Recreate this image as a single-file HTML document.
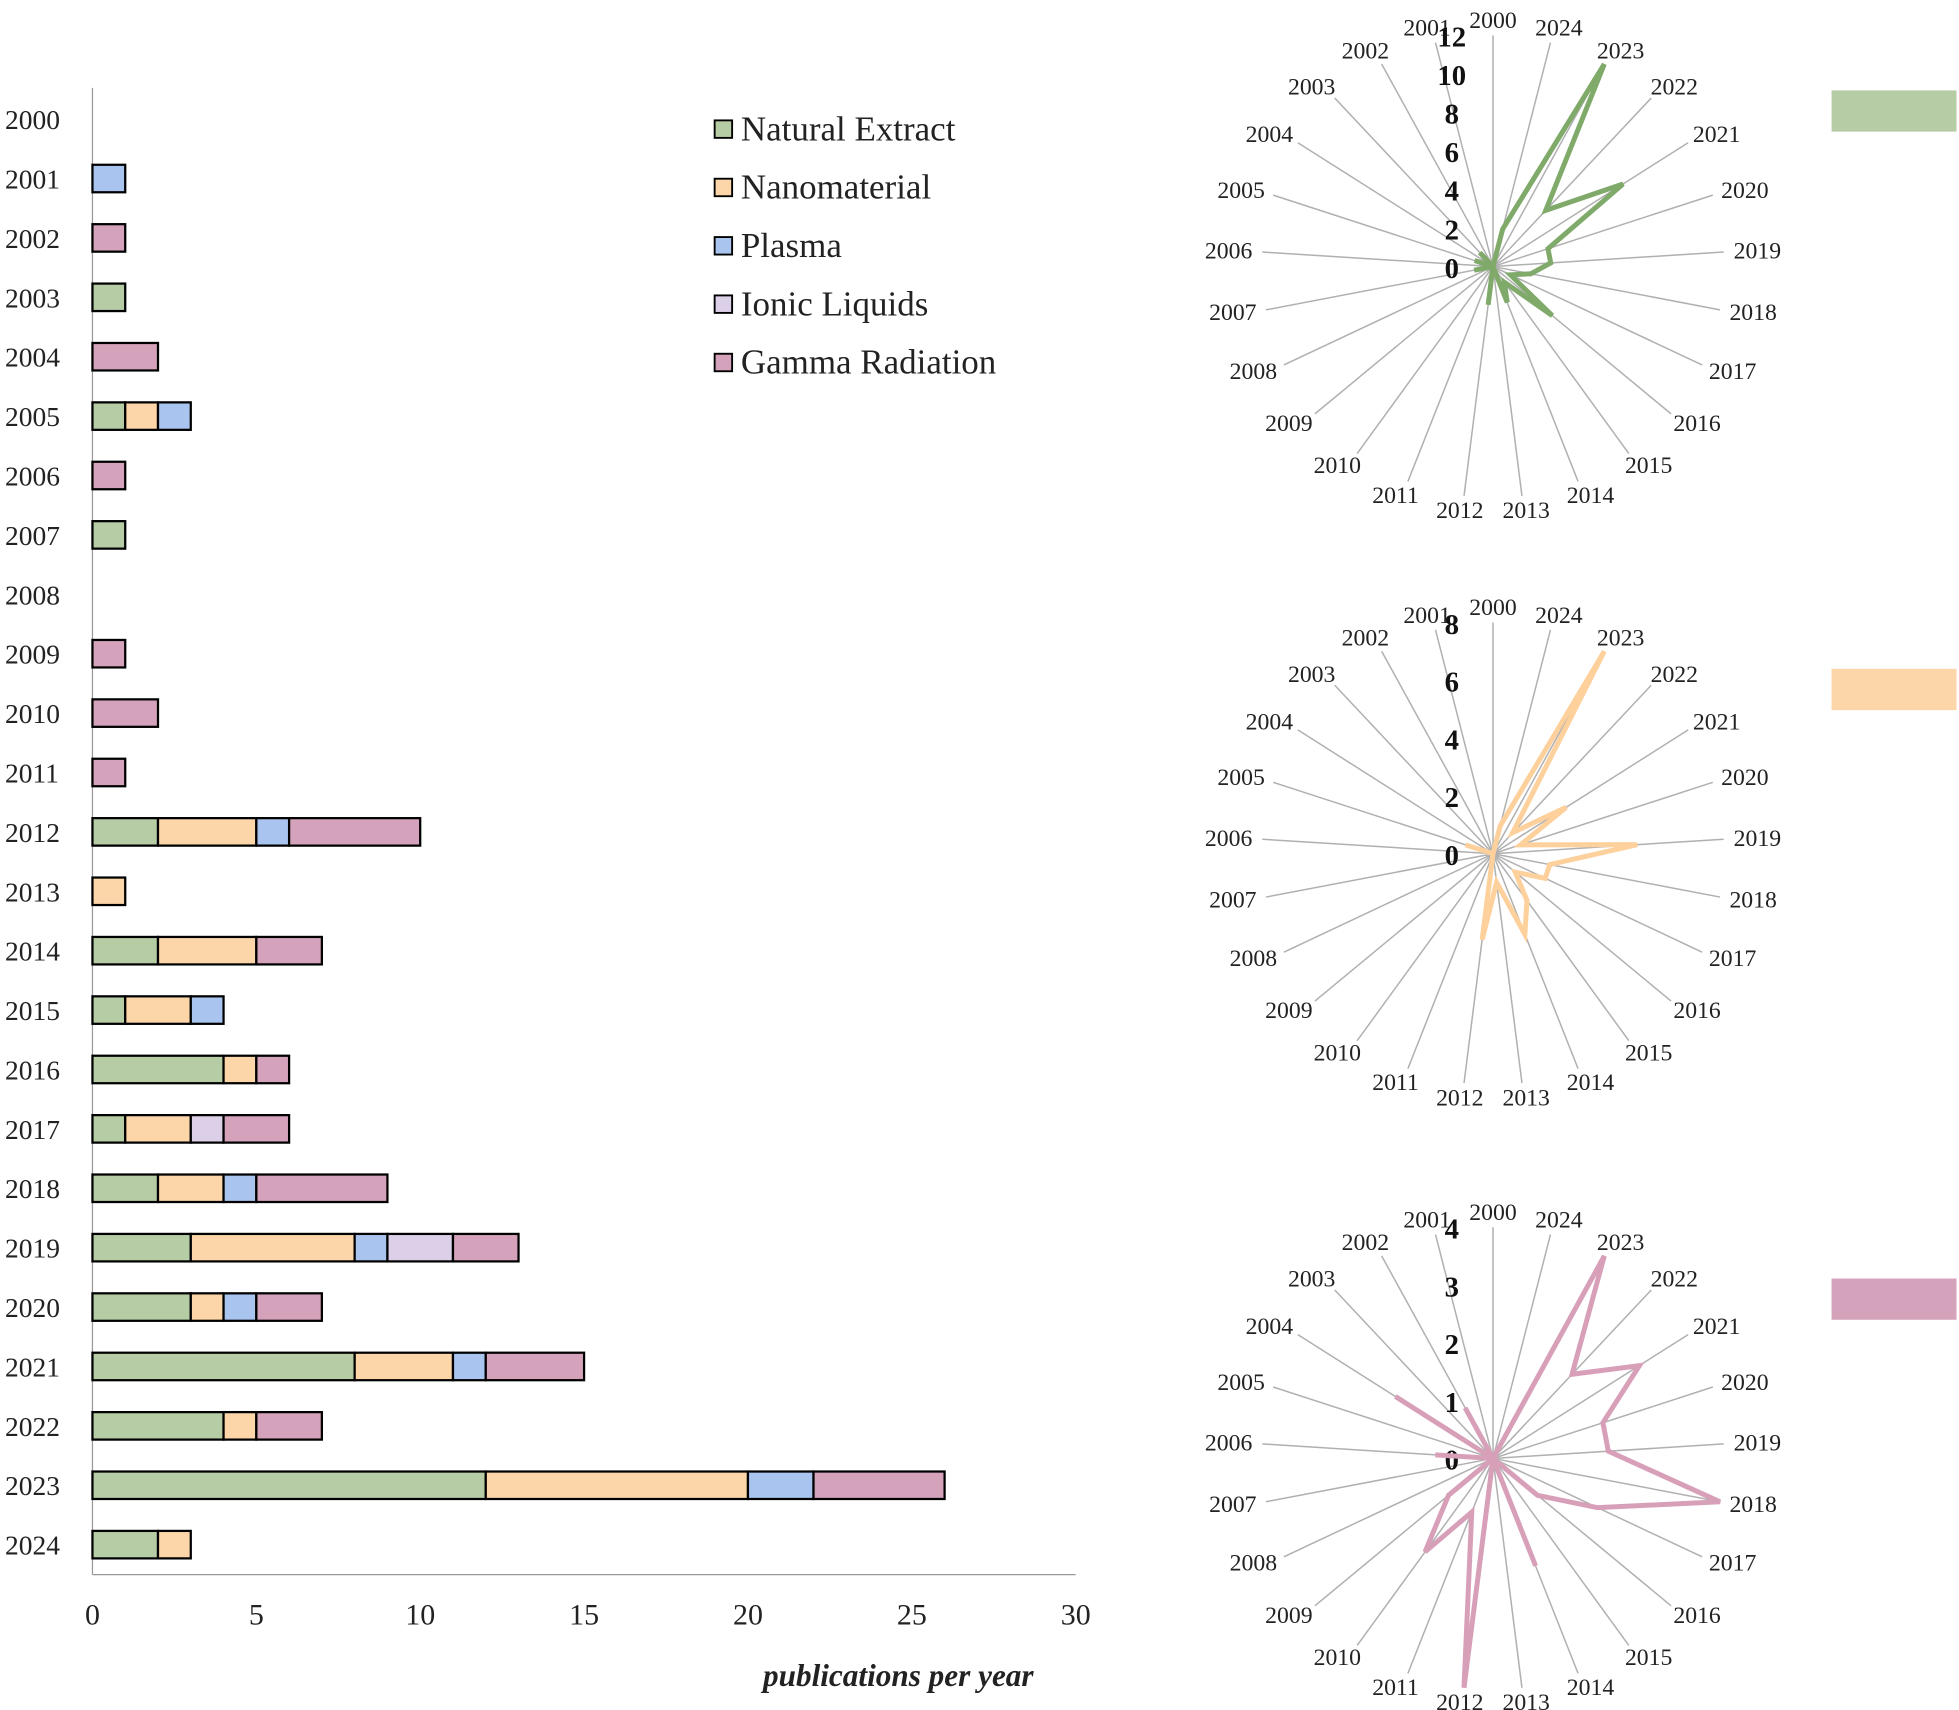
<!DOCTYPE html>
<html><head><meta charset="utf-8"><style>
html,body{margin:0;padding:0;background:#fff;}
svg{display:block;font-family:"Liberation Serif",serif;}
</style></head><body>
<svg id="chart" width="1959" height="1710" viewBox="0 0 1568 1368" xmlns="http://www.w3.org/2000/svg">
<rect width="1568" height="1368" fill="#fff"/>
</svg>
<script>
const years = [2000,2001,2002,2003,2004,2005,2006,2007,2008,2009,2010,2011,2012,2013,2014,2015,2016,2017,2018,2019,2020,2021,2022,2023,2024];
const naturalExtract = [0,0,0,1,0,1,0,1,0,0,0,0,2,0,2,1,4,1,2,3,3,8,4,12,2];
const nanomaterial   = [0,0,0,0,0,1,0,0,0,0,0,0,3,1,3,2,1,2,2,5,1,3,1,8,1];
const plasma         = [0,1,0,0,0,1,0,0,0,0,0,0,1,0,0,1,0,0,1,1,1,1,0,2,0];
const ionicLiquids   = [0,0,0,0,0,0,0,0,0,0,0,0,0,0,0,0,0,1,0,2,0,0,0,0,0];
const gammaRadiation = [0,0,1,0,2,0,1,0,0,1,2,1,4,0,2,0,1,2,4,2,2,3,2,4,0];
const seriesNames = ["Natural Extract","Nanomaterial","Plasma","Ionic Liquids","Gamma Radiation"];
const seriesColors = ["#b5cca5","#fcd5a8","#a9c4ef","#dcd0e8","#d4a3bb"];
const xTicks = [0,5,10,15,20,25,30];
const radarGreenTicks = [0,2,4,6,8,10,12];
const radarOrangeTicks = [0,2,4,6,8];
const radarPinkTicks = [0,1,2,3,4];

const NS="http://www.w3.org/2000/svg";
const svg=document.getElementById('chart');
function mk(tag,attrs,parent,text){const e=document.createElementNS(NS,tag);for(const k in attrs)e.setAttribute(k,attrs[k]);if(text!==undefined)e.textContent=text;(parent||svg).appendChild(e);return e;}

const x0=74,x1=861,xMax=30;
const xs=v=>x0+v/xMax*(x1-x0);
const yFirst=95,yLast=1236;
const ys=i=>yFirst+i*(yLast-yFirst)/(years.length-1);
const bh=22;
const yAxis=mk('line',{x1:x0,y1:70,x2:x0,y2:1260,stroke:'#999','stroke-width':1});


const xAxis=mk('line',{x1:x0,y1:1260,x2:x1,y2:1260,stroke:'#999','stroke-width':1});


xTicks.forEach(t=>{
  const tx=mk('text',{x:xs(t),y:1300,'font-size':24,'text-anchor':'middle',fill:'#222'},svg,String(t));
  
  
});
const xt=mk('text',{x:719,y:1349,'font-size':25,'font-style':'italic','font-weight':'bold','text-anchor':'middle',fill:'#222'},svg,'publications per year');


const allSeries=[naturalExtract,nanomaterial,plasma,ionicLiquids,gammaRadiation];
years.forEach((yr,i)=>{
  const lb=mk('text',{x:4,y:ys(i)+8,'font-size':22,fill:'#222'},svg,String(yr));
  
  
  let acc=0;
  allSeries.forEach((s,k)=>{
    const v=s[i]; if(!v) return;
    const r=mk('rect',{x:xs(acc),y:ys(i)-bh/2,width:xs(acc+v)-xs(acc),height:bh,fill:seriesColors[k],stroke:'#000','stroke-width':1.8});
    
    
    acc+=v;
  });
});
seriesNames.forEach((n,k)=>{
  const y=103+k*46.7;
  const g=mk('g',{});
  
  
  mk('rect',{x:572,y:y-7,width:14,height:14,fill:seriesColors[k],stroke:'#000','stroke-width':1.5},g);
  mk('text',{x:593,y:y+9,'font-size':28,fill:'#222'},g,n);
});

function radar(cx,cy,data,ticks,color,rectY,name,keyColor){
  const R=185,maxV=ticks[ticks.length-1],n=years.length;
  const g=mk('g',{});
  
  
  const ang=i=>-Math.PI/2-i*2*Math.PI/n;
  years.forEach((yr,i)=>{
    const a=ang(i);
    mk('line',{x1:cx,y1:cy,x2:cx+R*Math.cos(a),y2:cy+R*Math.sin(a),stroke:'#b0b0b0','stroke-width':1.2},g);
    const t=mk('text',{x:cx+(R+27)*Math.cos(a),y:cy+(R+12)*Math.sin(a)+6,'font-size':19,'text-anchor':'middle',fill:'#222'},g,String(yr));
    
    
  });
  ticks.forEach(t=>{
    const tt=mk('text',{x:cx-33,y:cy-t/maxV*R+9,'font-size':23,'font-weight':'bold','text-anchor':'middle',fill:'#111'},g,String(t));
    
    
  });
  const pts=data.map((v,i)=>{const a=ang(i),r=v/maxV*R;return (cx+r*Math.cos(a)).toFixed(1)+','+(cy+r*Math.sin(a)).toFixed(1);}).join(' ');
  const p=mk('polygon',{points:pts,fill:'none',stroke:color,'stroke-width':4,'stroke-linejoin':'miter'},g);
  
  
  const r=mk('rect',{x:1466,y:rectY,width:100,height:33,fill:keyColor},svg);
  
  
}
radar(1195,213,naturalExtract,radarGreenTicks,'#7faa6a',72,'radar-natural-extract','#b5cca5');
radar(1195,683,nanomaterial,radarOrangeTicks,'#fdd09c',535,'radar-nanomaterial','#fcd5a8');
radar(1195,1167,gammaRadiation,radarPinkTicks,'#d8a0b8',1023,'radar-gamma-radiation','#d4a3bb');
</script>
</body></html>
